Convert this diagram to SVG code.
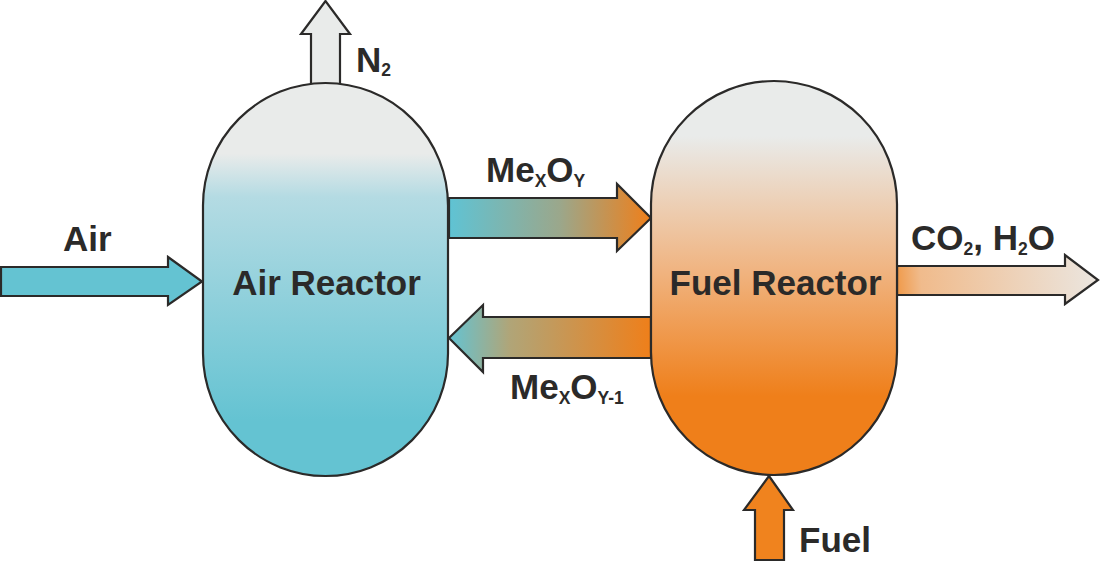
<svg xmlns="http://www.w3.org/2000/svg" width="1100" height="562" viewBox="0 0 1100 562">
<style>
.o{stroke:#2b2a29;stroke-width:2.2;stroke-linejoin:miter}
text{font-family:"Liberation Sans",Arial,sans-serif;font-weight:bold;fill:#2b2a29;font-size:35px}
.s{font-size:17.500px}
</style>
<defs>
<linearGradient id="ga" x1="0" y1="0" x2="0" y2="1"><stop offset="0" stop-color="#e9ebea"/><stop offset="0.18" stop-color="#e9ebea"/><stop offset="0.29" stop-color="#b4dbe3"/><stop offset="0.86" stop-color="#64c3d2"/><stop offset="1" stop-color="#64c3d2"/></linearGradient>
<linearGradient id="gf" x1="0" y1="0" x2="0" y2="1"><stop offset="0" stop-color="#e9ebea"/><stop offset="0.14" stop-color="#e9ebea"/><stop offset="0.48" stop-color="#f0b481"/><stop offset="0.8" stop-color="#ef7f1a"/><stop offset="1" stop-color="#ef7f1a"/></linearGradient>
<linearGradient id="g1" gradientUnits="userSpaceOnUse" x1="449" y1="0" x2="651" y2="0"><stop offset="0" stop-color="#5fc3d4"/><stop offset="0.55" stop-color="#9ba78b"/><stop offset="1" stop-color="#ef7f1a"/></linearGradient>
<linearGradient id="g2" gradientUnits="userSpaceOnUse" x1="449" y1="0" x2="651" y2="0"><stop offset="0" stop-color="#64c3d2"/><stop offset="0.3" stop-color="#b0a578"/><stop offset="1" stop-color="#ef7f1a"/></linearGradient>
<linearGradient id="g3" gradientUnits="userSpaceOnUse" x1="897" y1="285" x2="1098" y2="270"><stop offset="0" stop-color="#f09a4a"/><stop offset="0.12" stop-color="#f0bb8c"/><stop offset="1" stop-color="#ebe6e0"/></linearGradient>
</defs>
<g id="connectors">
<path id="n2-arrow" class="o" fill="#e9ebea" d="M311 85V34H301L325.500 1L350 34H340V85Z"/>
<path id="air-arrow" class="o" fill="#64c3d2" d="M1 267H168V257L202 281.500L168 305V296H1Z"/>
<path id="mexoy-arrow" class="o" fill="url(#g1)" d="M449 198H617V184L651 218L617 251V238H449Z"/>
<path id="mexoy1-arrow" class="o" fill="url(#g2)" d="M651 317H483V305L449 338L483 372V358H651Z"/>
<path id="co2-arrow" class="o" fill="url(#g3)" d="M897 266H1065V255L1098 280L1065 304V295H897Z"/>
<path id="fuel-arrow" class="o" fill="#f0831e" d="M755 560V510H744L769 476L793 510H784V560Z"/>
</g>
<g id="air-reactor">
<rect class="o" fill="url(#ga)" x="203" y="83" width="245" height="393" rx="122.500" ry="122.500"/>
<text x="326.500" y="295" text-anchor="middle">Air Reactor</text>
</g>
<g id="fuel-reactor">
<rect class="o" fill="url(#gf)" x="651" y="81" width="246" height="394" rx="123" ry="123"/>
<text x="775.500" y="295" text-anchor="middle">Fuel Reactor</text>
</g>
<g id="labels">
<text x="63" y="251">Air</text>
<text x="356" y="72">N<tspan class="s" dy="4">2</tspan></text>
<text x="486" y="182">Me<tspan class="s" dy="5">X</tspan><tspan dy="-5">O</tspan><tspan class="s" dy="5">Y</tspan></text>
<text x="510" y="399">Me<tspan class="s" dy="5">X</tspan><tspan dy="-5">O</tspan><tspan class="s" dy="5">Y-1</tspan></text>
<text x="911" y="250">CO<tspan class="s" dy="5">2</tspan><tspan dy="-5">, H</tspan><tspan class="s" dy="5">2</tspan><tspan dy="-5">O</tspan></text>
<text x="799" y="552">Fuel</text>
</g>
</svg>
